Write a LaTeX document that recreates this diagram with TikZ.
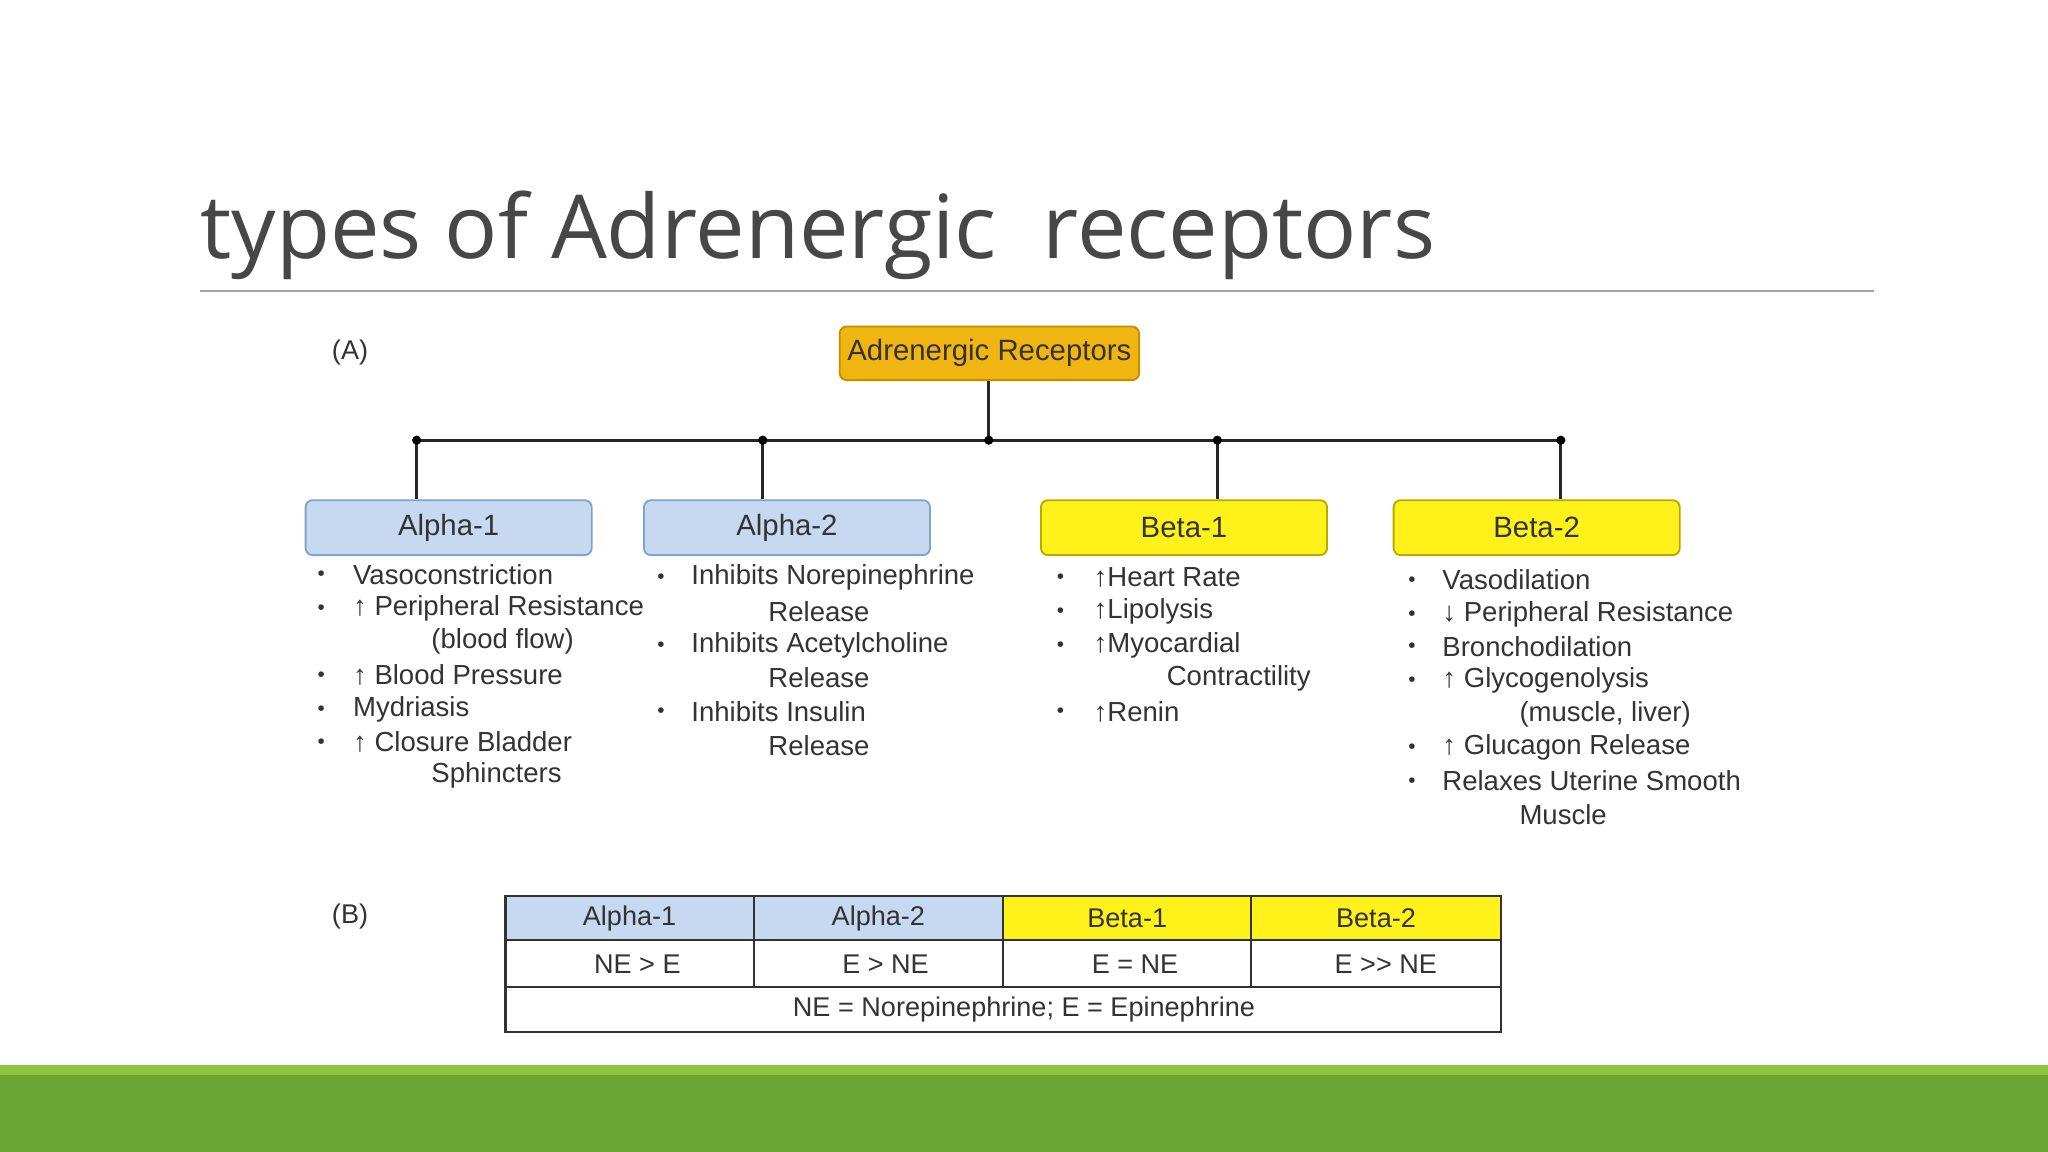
\documentclass[tikz,border=0pt]{standalone}
\usepackage{fontspec}
\setmainfont{Liberation Sans}
\newfontfamily\titlefont{Open Sans}
\definecolor{txt}{HTML}{333333}
\definecolor{bluef}{HTML}{C6D9F0}
\definecolor{blued}{HTML}{7FA3CC}
\definecolor{yelf}{HTML}{FFF21A}
\definecolor{yeld}{HTML}{B8A800}
\definecolor{orf}{HTML}{F1B512}
\definecolor{ord}{HTML}{C48E00}
\definecolor{greenA}{HTML}{8CC63F}
\definecolor{greenB}{HTML}{6BA534}
\tikzset{
 rbox/.style={draw, rounded corners=3pt, line width=0.8pt, minimum width=219*0.02cm, minimum height=42*0.02cm, font=\fontsize{12.8}{14}\selectfont, text=txt},
 item/.style={anchor=west, inner sep=0pt, font=\fontsize{12}{13}\selectfont, text=txt},
 bul/.style={anchor=center, inner sep=0pt, font=\fontsize{9}{10}\selectfont, text=txt},
 conn/.style={line width=1.2pt, black!85},
 jdot/.style={circle, fill=black, inner sep=0pt, minimum size=4pt},
 cell/.style={anchor=center, inner sep=0pt, font=\fontsize{11.8}{13}\selectfont, text=txt},
}
\begin{document}
\begin{tikzpicture}[x=0.02cm,y=-0.02cm]
\useasboundingbox (0,0) rectangle (1568,882);
\fill[white] (0,0) rectangle (1568,882);
% title
\node[anchor=base west, inner sep=0pt, text=txt!90, font=\titlefont\fontsize{38.5}{44}\selectfont] (title) at (153,198) {types of Adrenergic\ \ receptors};
\draw[black!35, line width=0.8pt] (153,223) -- (1435,223);
% green bars
\fill[greenA] (0,815) rectangle (1568,823);
\fill[greenB] (0,823) rectangle (1568,882);
% labels
\node[cell] (A) at (268,270) {(A)};
\node[cell] (B) at (268,702) {(B)};
% boxes
\node[rbox, fill=orf, draw=ord, minimum height=41*0.02cm] (root) at (757.5,270.5) {Adrenergic Receptors};
\node[rbox, fill=bluef, draw=blued] (a1) at (343.5,404) {Alpha-1};
\node[rbox, fill=bluef, draw=blued] (a2) at (602.5,404) {Alpha-2};
\node[rbox, fill=yelf, draw=yeld] (b1) at (906.5,404) {Beta-1};
\node[rbox, fill=yelf, draw=yeld] (b2) at (1176.5,404) {Beta-2};
% connectors
\coordinate (c0) at (757,337);
\coordinate (j1) at (319,337);
\coordinate (j2) at (584,337);
\coordinate (j3) at (932,337);
\coordinate (j4) at (1195,337);
\draw[conn] (root.south -| c0) -- (c0);
\draw[conn] (j1) -- (j4);
\draw[conn] (j1) -- (j1 |- a1.north);
\draw[conn] (j2) -- (j2 |- a2.north);
\draw[conn] (j3) -- (j3 |- b1.north);
\draw[conn] (j4) -- (j4 |- b2.north);
\foreach \p in {c0,j1,j2,j3,j4} \node[jdot] at (\p) {};
% Alpha-1 list
\node[bul] (a1b1) at (246,441) {•}; \node[item] (a1t1) at (270,440) {Vasoconstriction};
\node[bul] (a1b2) at (246,467) {•}; \node[item] (a1t2) at (270,466) {↑ Peripheral Resistance};
\node[item] (a1t3) at (330,491) {(blood flow)};
\node[bul] (a1b4) at (246,518) {•}; \node[item] (a1t4) at (270,517) {↑ Blood Pressure};
\node[bul] (a1b5) at (246,544) {•}; \node[item] (a1t5) at (270,543) {Mydriasis};
\node[bul] (a1b6) at (246,569) {•}; \node[item] (a1t6) at (270,568) {↑ Closure Bladder};
\node[item] (a1t7) at (330,594) {Sphincters};
% Alpha-2 list
\node[bul] (a2b1) at (506,443) {•}; \node[item] (a2t1) at (529,442) {Inhibits Norepinephrine};
\node[item] (a2t2) at (588,468) {Release};
\node[bul] (a2b3) at (506,495) {•}; \node[item] (a2t3) at (529,494) {Inhibits Acetylcholine};
\node[item] (a2t4) at (588,519) {Release};
\node[bul] (a2b5) at (506,546) {•}; \node[item] (a2t5) at (529,545) {Inhibits Insulin};
\node[item] (a2t6) at (588,571) {Release};
% Beta-1 list
\node[bul] (b1b1) at (812,443) {•}; \node[item] (b1t1) at (837,442) {↑Heart Rate};
\node[bul] (b1b2) at (812,469) {•}; \node[item] (b1t2) at (837,468) {↑Lipolysis};
\node[bul] (b1b3) at (812,495) {•}; \node[item] (b1t3) at (837,494) {↑Myocardial};
\node[item] (b1t4) at (893,519) {Contractility};
\node[bul] (b1b5) at (812,546) {•}; \node[item] (b1t5) at (837,545) {↑Renin};
% Beta-2 list
\node[bul] (b2b1) at (1081,445) {•}; \node[item] (b2t1) at (1104,444) {Vasodilation};
\node[bul] (b2b2) at (1081,471) {•}; \node[item] (b2t2) at (1104,470) {↓ Peripheral Resistance};
\node[bul] (b2b3) at (1081,496) {•}; \node[item] (b2t3) at (1104,495) {Bronchodilation};
\node[bul] (b2b4) at (1081,522) {•}; \node[item] (b2t4) at (1104,521) {↑ Glycogenolysis};
\node[item] (b2t5) at (1163,547) {(muscle, liver)};
\node[bul] (b2b6) at (1081,573) {•}; \node[item] (b2t6) at (1104,572) {↑ Glucagon Release};
\node[bul] (b2b7) at (1081,599) {•}; \node[item] (b2t7) at (1104,598) {Relaxes Uterine Smooth};
\node[item] (b2t8) at (1163,624) {Muscle};
% table
\fill[bluef] (387,686) rectangle (768,720);
\fill[yelf] (768,686) rectangle (1149,720);
\draw[black!80, line width=0.9pt] (387,686) rectangle (1149,790);
\draw[black!80, line width=0.9pt] (387,720) -- (1149,720);
\draw[black!80, line width=0.9pt] (387,756) -- (1149,756);
\foreach \x in {577,768,958} \draw[black!80, line width=0.9pt] (\x,686) -- (\x,756);
\node[cell] (h1) at (482,703) {Alpha-1};
\node[cell] (h2) at (672.5,703) {Alpha-2};
\node[cell] (h3) at (863,703) {Beta-1};
\node[cell] (h4) at (1053.5,703) {Beta-2};
\node[cell] (r1) at (488,738) {NE > E};
\node[cell] (r2) at (678,738) {E > NE};
\node[cell] (r3) at (869,738) {E = NE};
\node[cell] (r4) at (1061,738) {E {>}{>} NE};
\node[cell] (note) at (784,773) {NE = Norepinephrine; E = Epinephrine};
\end{tikzpicture}
\end{document}
